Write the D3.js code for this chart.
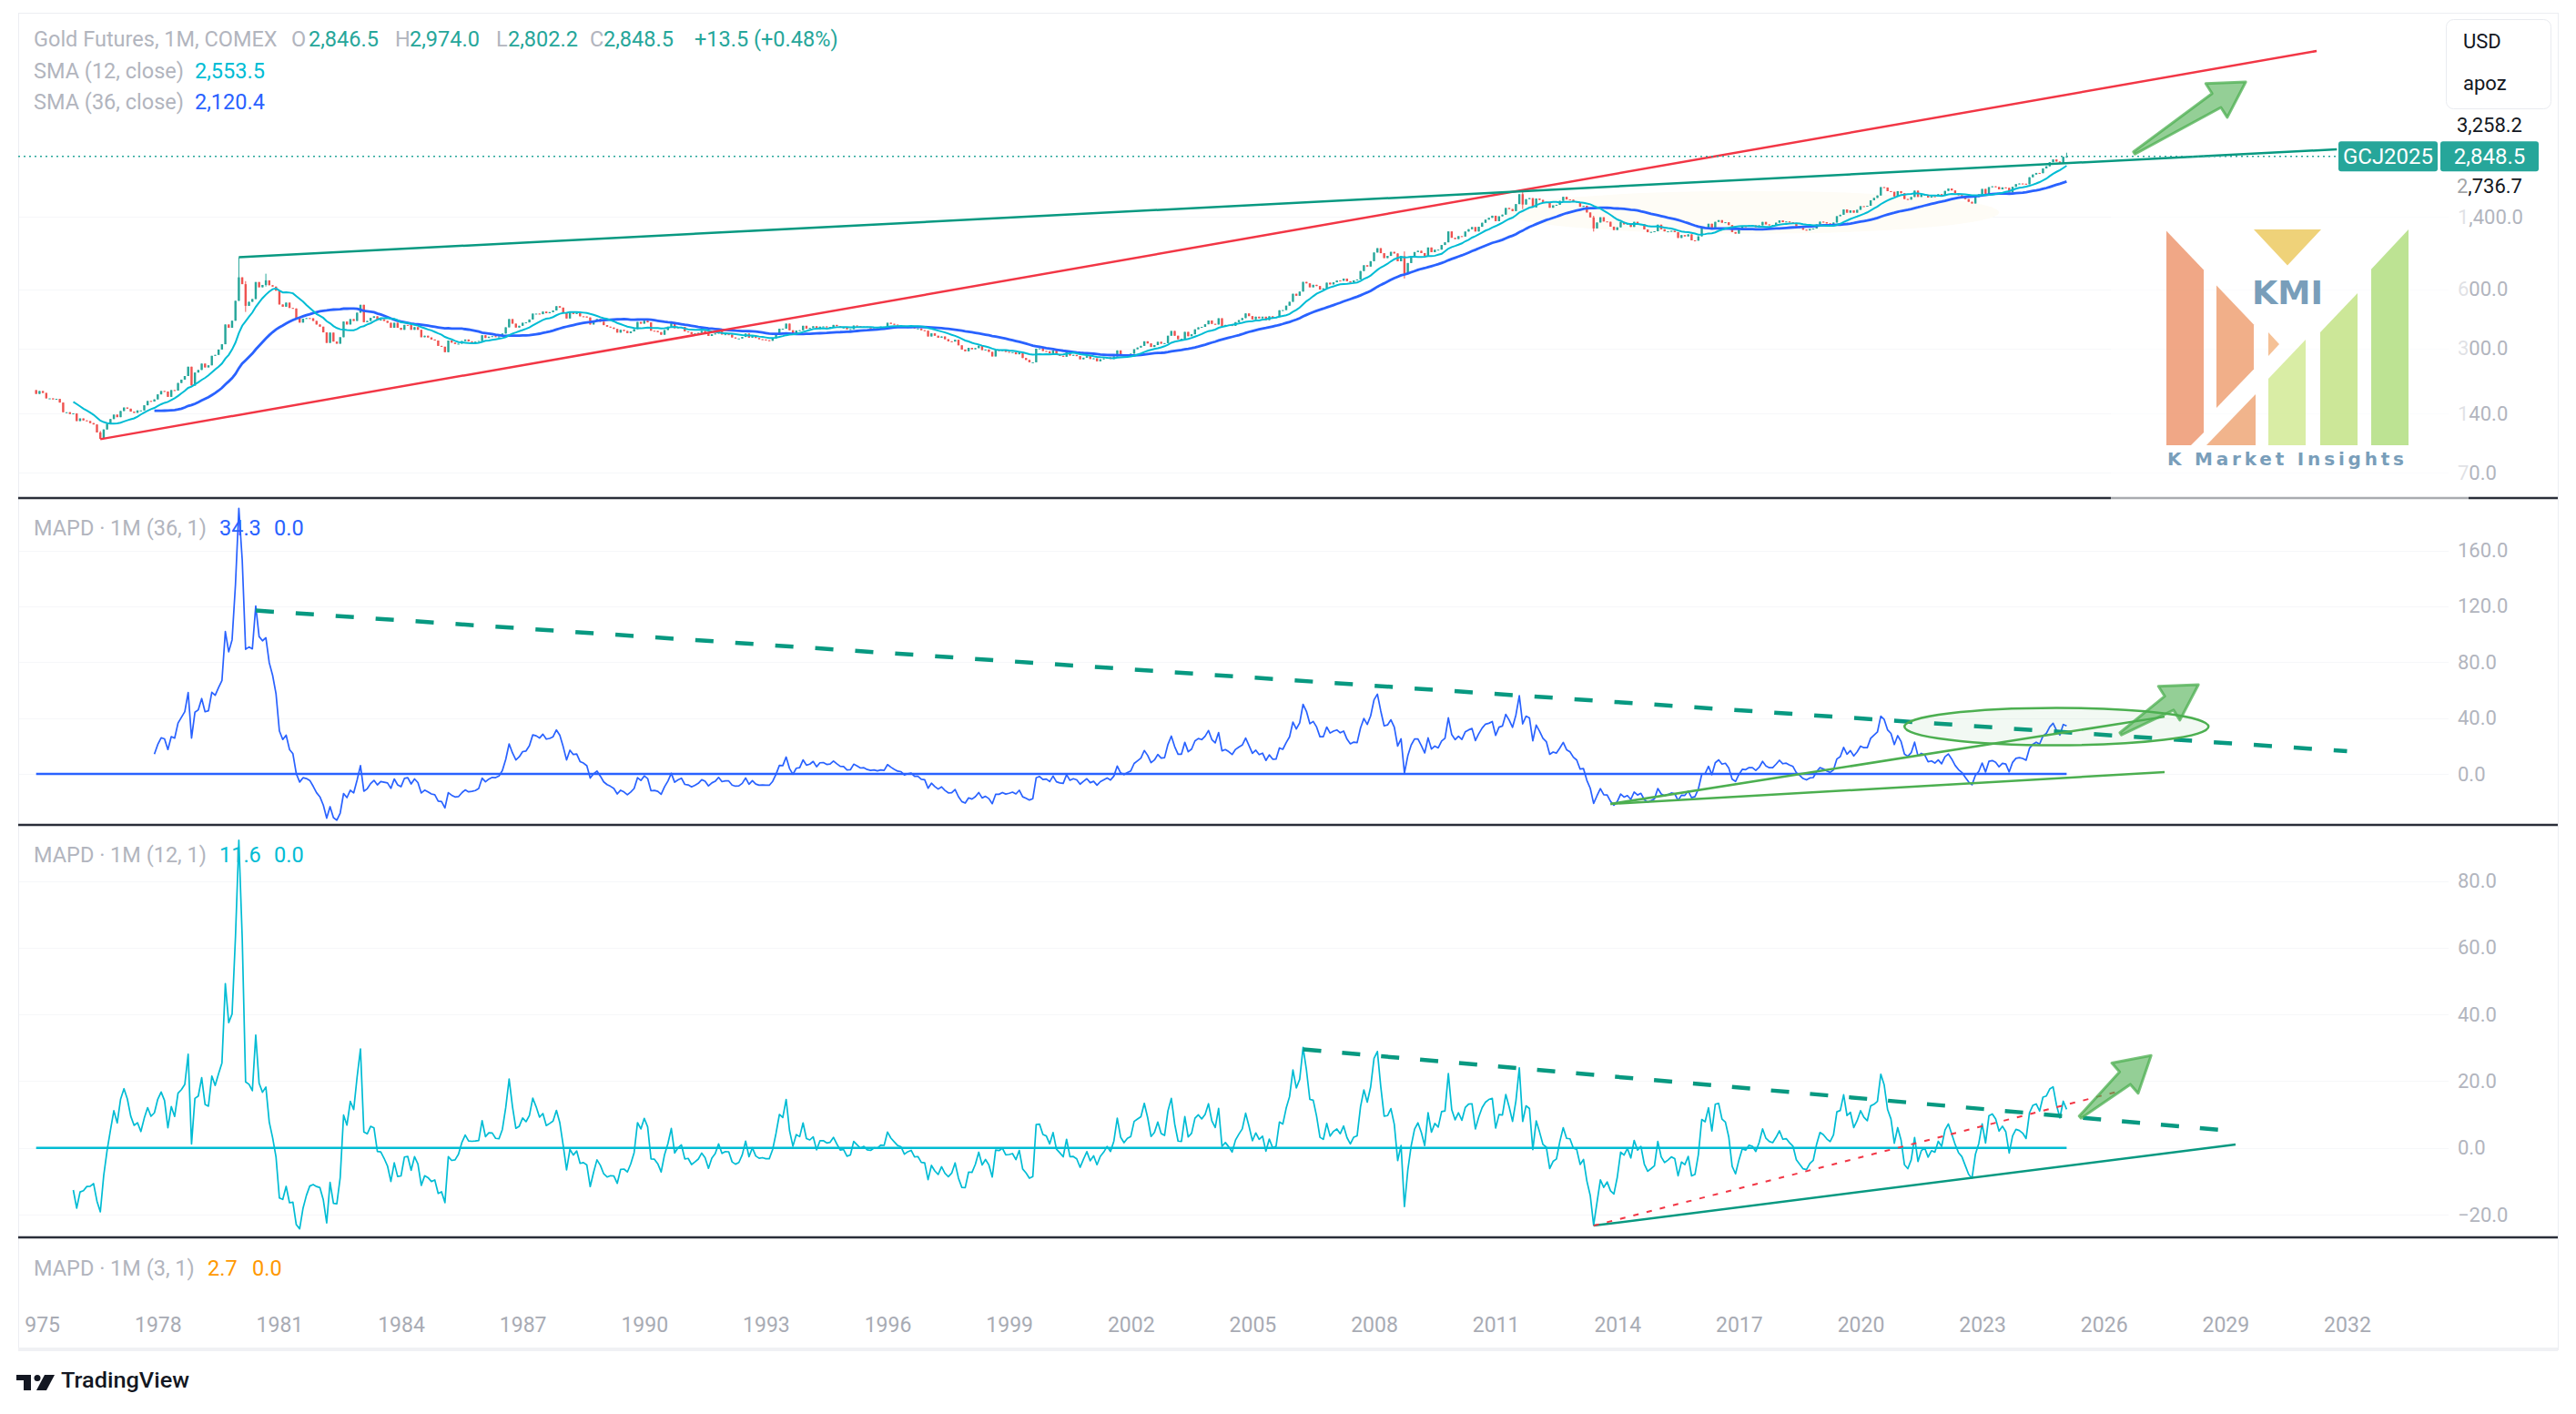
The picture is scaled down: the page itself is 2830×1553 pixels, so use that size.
<!DOCTYPE html>
<html>
<head>
<meta charset="utf-8">
<script src="https://cdn.jsdelivr.net/npm/d3@7"></script>
<style>
  html, body { margin: 0; padding: 0; background: #fff; }
  svg { display: block; }
</style>
</head>
<body>
<div id="chart"></div>
<script>
const W = 2830, H = 1553;
const FONT = 'Roboto, "Liberation Sans", Arial, sans-serif';

// Monthly closes, gold futures continuous (COMEX), one row per year
const close1970s = [
  176, 182, 178, 167, 167, 165, 166, 159, 142, 142, 139, 140,   // 1975
  128, 132, 129, 128, 125, 123, 112, 104, 116, 124, 131, 138,   // 1976
  134, 144, 150, 148, 143, 141, 145, 145, 154, 162, 161, 165,   // 1977
  175, 182, 181, 170, 184, 183, 200, 208, 217, 242, 194, 226,   // 1978
  233, 251, 240, 246, 275, 278, 296, 315, 397, 382, 415, 524    // 1979
];
const close1980s = [
  690, 637, 494, 518, 535, 653, 614, 631, 666, 629, 619, 590,
  502, 489, 513, 482, 479, 426, 406, 425, 428, 427, 414, 397,
  387, 362, 320, 361, 325, 317, 342, 411, 397, 423, 414, 456,
  500, 408, 414, 429, 437, 416, 422, 414, 405, 382, 405, 382,
  373, 395, 394, 373, 385, 373, 342, 348, 341, 333, 329, 309,
  306, 287, 329, 321, 316, 317, 327, 333, 326, 325, 325, 327,
  350, 339, 344, 346, 343, 345, 357, 384, 423, 401, 383, 391,
  405, 407, 421, 451, 451, 448, 462, 453, 459, 468, 492, 484,
  458, 426, 457, 449, 455, 437, 436, 431, 397, 412, 423, 410,
  394, 387, 383, 377, 361, 373, 368, 359, 366, 376, 409, 401
];
const close1990s = [
  415, 407, 369, 368, 363, 352, 372, 387, 408, 380, 384, 386,
  366, 363, 355, 357, 360, 368, 362, 347, 354, 357, 366, 353,
  354, 353, 341, 337, 337, 343, 357, 340, 349, 339, 334, 333,
  330, 328, 337, 355, 378, 378, 401, 371, 355, 370, 371, 391,
  378, 381, 389, 376, 387, 388, 384, 386, 395, 389, 383, 383,
  375, 376, 392, 389, 385, 387, 383, 382, 384, 383, 387, 387,
  405, 400, 396, 392, 391, 382, 385, 387, 379, 379, 371, 369,
  345, 358, 348, 340, 345, 334, 326, 325, 332, 311, 296, 290,
  302, 297, 301, 310, 294, 296, 288, 273, 294, 292, 294, 288,
  287, 287, 280, 286, 268, 262, 255, 255, 299, 300, 291, 290
];
const close2000s = [
  283, 293, 279, 275, 272, 289, 276, 278, 274, 264, 269, 274,
  265, 267, 258, 264, 267, 270, 265, 273, 293, 279, 275, 279,
  282, 297, 303, 309, 326, 318, 305, 312, 324, 317, 319, 348,
  368, 348, 334, 336, 364, 346, 354, 375, 384, 386, 398, 416,
  400, 397, 427, 388, 395, 394, 391, 408, 418, 428, 452, 438,
  422, 435, 427, 435, 418, 437, 429, 433, 469, 470, 495, 518,
  569, 556, 584, 654, 643, 614, 632, 623, 598, 606, 648, 635,
  651, 665, 663, 680, 659, 650, 666, 673, 743, 795, 783, 834,
  923, 971, 916, 865, 887, 930, 913, 833, 884, 718, 816, 884,
  928, 942, 917, 884, 979, 927, 954, 955, 1008, 1040, 1182, 1097
];
const close2010s = [
  1081, 1118, 1113, 1180, 1213, 1244, 1181, 1248, 1308, 1357, 1386, 1421,
  1333, 1411, 1439, 1556, 1536, 1500, 1628, 1829, 1620, 1725, 1746, 1566,
  1738, 1710, 1669, 1664, 1560, 1604, 1615, 1691, 1773, 1719, 1714, 1676,
  1663, 1578, 1597, 1476, 1393, 1224, 1312, 1395, 1328, 1323, 1250, 1202,
  1240, 1321, 1284, 1295, 1246, 1322, 1282, 1287, 1210, 1171, 1175, 1184,
  1279, 1212, 1183, 1183, 1190, 1172, 1095, 1132, 1115, 1142, 1065, 1061,
  1116, 1238, 1235, 1293, 1215, 1322, 1349, 1309, 1316, 1273, 1173, 1152,
  1211, 1255, 1251, 1268, 1268, 1242, 1269, 1321, 1283, 1271, 1275, 1309,
  1345, 1318, 1327, 1315, 1305, 1253, 1232, 1206, 1196, 1215, 1223, 1282,
  1325, 1316, 1298, 1285, 1311, 1413, 1437, 1529, 1472, 1513, 1472, 1523
];
const close2020s = [
  1589, 1585, 1597, 1702, 1751, 1801, 1986, 1978, 1895, 1880, 1780, 1895,
  1850, 1728, 1716, 1770, 1906, 1771, 1817, 1818, 1757, 1784, 1776, 1829,
  1797, 1900, 1954, 1911, 1849, 1807, 1782, 1726, 1672, 1640, 1768, 1826,
  1945, 1836, 1986, 2005, 1990, 1935, 1980, 1970, 1866, 1994, 2057, 2072,
  2067, 2054, 2230, 2303, 2346, 2339, 2474, 2536, 2660, 2749, 2681, 2641,
  2835, 2848.5
];
const firstOpen = 184;
const lastOHLC = [2846.5, 2974.0, 2802.2, 2848.5];

// months whose wicks stand out in the picture
const wickMonths = ['1976-08', '1980-01', '1980-03', '1980-09', '2008-10', '2011-09', '2013-06', '2025-02'];
const wickHigh   = [114, 873, 660, 720, 935, 1920, 1420, 2974.0];
const wickLow    = [103.5, 560, 460, 620, 681, 1535, 1180, 2802.2];

const priceTicks = [70, 140, 300, 600, 1400];
const mapd36Ticks = [0, 40, 80, 120, 160];
const mapd12Ticks = [-20, 0, 20, 40, 60, 80];
const yearTicks = [1975, 1978, 1981, 1984, 1987, 1990, 1993, 1996, 1999, 2002, 2005,
                   2008, 2011, 2014, 2017, 2020, 2023, 2026, 2029, 2032];

// drawings, as [month, value]
const redTrend = [['1976-08', 103.5], ['2031-04', 9800]];
const greenTrend = [['1980-01', 873], ['2031-10', 3095]];
const priceArrow = [['2026-10', 2966], ['2029-07', 6820]];
const m36Dashed = [['1980-06', 117], ['2032-01', 16.3]];
const m36Lower = [['2013-11', -21.5], ['2027-07', 1.3]];
const m36Upper = [['2013-11', -21.5], ['2027-07', 41]];
const m36Ellipse = [['2021-02', 20.5], ['2028-08', 47.3]];
const m36Arrow = [['2026-06', 28.7], ['2028-05', 63.9]];
const m12Dashed = [['2006-04', 29.5], ['2029-03', 5.1]];
const m12Support = [['2013-06', -23.3], ['2029-04', 1.0]];
const m12RedDots = [['2013-06', -23.3], ['2026-06', 17.1]];
const m12Arrow = [['2025-06', 9.2], ['2027-03', 27.7]];

const closes = [].concat(close1970s, close1980s, close1990s, close2000s, close2010s, close2020s);
const monthIdx = s => { const [yy, mm] = s.split('-').map(Number); return (yy - 1975) * 12 + (mm - 1); };

function sma(arr, n) {
  return arr.map((v, i) => i < n - 1 ? null : d3.mean(arr.slice(i - n + 1, i + 1)));
}
function mapd(n) {
  const s = sma(closes, n);
  return closes.map((c, i) => s[i] == null ? null : (c - s[i]) / s[i] * 100);
}
const sma12 = sma(closes, 12), sma36 = sma(closes, 36);
const mapd36 = mapd(36), mapd12 = mapd(12), mapd3 = mapd(3);
const last = closes.length - 1;

const bars = closes.map((c, i) => {
  const o = i === last ? lastOHLC[0] : (i === 0 ? firstOpen : closes[i - 1]);
  return { i, o, c, h: Math.max(o, c), l: Math.min(o, c) };
});
wickMonths.forEach((m, k) => {
  const b = bars[monthIdx(m)];
  b.h = Math.max(b.h, wickHigh[k]);
  b.l = Math.min(b.l, wickLow[k]);
});

// scales
const x = d3.scaleLinear().domain([0, last]).range([39.7, 2270.4]);
const yPrice = d3.scaleLog().domain([70, 600]).range([519, 317.7]);
const y36 = d3.scaleLinear().domain([0, 160]).range([850, 604.6]);
const y12 = d3.scaleLinear().domain([-20, 80]).range([1334, 967.5]);

const UP = '#26a69a', DOWN = '#ef5350';

const svg = d3.select('#chart').append('svg')
  .attr('width', W).attr('height', H)
  .attr('font-family', FONT);
svg.append('rect').attr('width', W).attr('height', H).attr('fill', '#fff');

const defs = svg.append('defs');
function clip(id, x0, y0, x1, y1) {
  defs.append('clipPath').attr('id', id).append('rect')
    .attr('x', x0).attr('y', y0).attr('width', x1 - x0).attr('height', y1 - y0);
  return `url(#${id})`;
}
const clipPrice = clip('cp', 20, 14, 2690, 547);
const clip36 = clip('c36', 20, 547, 2690, 906);
const clip12 = clip('c12', 20, 906, 2690, 1359);
const clipTime = clip('ct', 25, 1400, 2810, 1480);

// frame
svg.append('rect').attr('x', 20.5).attr('y', 14.5).attr('width', 2790).attr('height', 1468)
  .attr('fill', 'none').attr('stroke', '#eceef2').attr('stroke-width', 1);

// faint grid
function hGrid(ticks, scale) {
  svg.append('g').selectAll('line').data(ticks).join('line')
    .attr('x1', 21).attr('x2', 2690)
    .attr('y1', d => Math.round(scale(d)) + 0.5).attr('y2', d => Math.round(scale(d)) + 0.5)
    .attr('stroke', '#f6f7f9').attr('stroke-width', 1);
}
hGrid(priceTicks, yPrice);
hGrid(mapd36Ticks, y36);
hGrid(mapd12Ticks, y12);

const pt = d => [x(monthIdx(d[0])), d[1]];

// ---------- price pane ----------
const gp = svg.append('g').attr('clip-path', clipPrice);

// very faint warm zone behind 2011-2023 candles
gp.append('ellipse')
  .attr('cx', (x(monthIdx('2011-03')) + x(monthIdx('2023-06'))) / 2)
  .attr('cy', (yPrice(1900) + yPrice(1150)) / 2)
  .attr('rx', (x(monthIdx('2023-06')) - x(monthIdx('2011-03'))) / 2)
  .attr('ry', (yPrice(1150) - yPrice(1900)) / 2)
  .attr('fill', '#fefcf6');

gp.append('g').selectAll('line').data(bars).join('line')
  .attr('x1', d => x(d.i)).attr('x2', d => x(d.i))
  .attr('y1', d => yPrice(d.h)).attr('y2', d => yPrice(d.l))
  .attr('stroke', d => d.c >= d.o ? UP : DOWN).attr('stroke-width', 1);
gp.append('g').selectAll('rect').data(bars).join('rect')
  .attr('x', d => x(d.i) - 1.2).attr('width', 2.4)
  .attr('y', d => yPrice(Math.max(d.o, d.c)))
  .attr('height', d => Math.max(1, yPrice(Math.min(d.o, d.c)) - yPrice(Math.max(d.o, d.c))))
  .attr('fill', d => d.c >= d.o ? UP : DOWN);

const priceLine = d3.line().defined(d => d != null).x((d, i) => x(i)).y(d => yPrice(d));
gp.append('path').attr('d', priceLine(sma36)).attr('fill', 'none')
  .attr('stroke', '#2962ff').attr('stroke-width', 2.8);
gp.append('path').attr('d', priceLine(sma12)).attr('fill', 'none')
  .attr('stroke', '#00bcd4').attr('stroke-width', 2);

function segment(g, pts, ys, color, width, dash) {
  const a = pt(pts[0]), b = pt(pts[1]);
  const l = g.append('line').attr('x1', a[0]).attr('y1', ys(a[1]))
    .attr('x2', b[0]).attr('y2', ys(b[1]))
    .attr('stroke', color).attr('stroke-width', width);
  if (dash) l.attr('stroke-dasharray', dash);
  return l;
}
segment(gp, redTrend, yPrice, '#f23645', 2.5);
segment(gp, greenTrend, yPrice, '#089981', 2.5);

// current price dotted line
gp.append('line').attr('x1', 20).attr('x2', 2569)
  .attr('y1', yPrice(lastOHLC[3])).attr('y2', yPrice(lastOHLC[3]))
  .attr('stroke', '#26a69a').attr('stroke-width', 1.6).attr('stroke-dasharray', '2 4');

function arrow(g, pts, ys) {
  const a = pt(pts[0]), b = pt(pts[1]);
  const p0 = [a[0], ys(a[1])], p1 = [b[0], ys(b[1])];
  const dx = p1[0] - p0[0], dy = p1[1] - p0[1], L = Math.hypot(dx, dy);
  const ux = dx / L, uy = dy / L, nx = -uy, ny = ux;
  const P = (s, t) => [p0[0] + ux * s + nx * t, p0[1] + uy * s + ny * t];
  const head = 38, hw = 22, sw = 9, tw = 1.5;
  const poly = [P(0, -tw), P(L - head, -sw), P(L - head, -hw), P(L, 0), P(L - head, hw), P(L - head, sw), P(0, tw)];
  g.append('polygon').attr('points', poly.map(p => p.join(',')).join(' '))
    .attr('fill', 'rgba(76,175,80,0.6)').attr('stroke', 'rgba(76,175,80,0.75)')
    .attr('stroke-width', 3).attr('stroke-linejoin', 'round');
}
arrow(gp, priceArrow, yPrice);

// legend
const fmt1 = d3.format(',.1f');
const legend = svg.append('g').attr('font-size', 23.5);
const l1 = legend.append('text').attr('y', 51).attr('fill', '#b2b5be');
l1.append('tspan').attr('x', 37).text('Gold Futures, 1M, COMEX');
const ohlcLetters = ['O', 'H', 'L', 'C'];
const ohlcLetterX = [320, 434, 545, 648];
const ohlcValueX = [339, 450, 558, 663];
ohlcLetters.forEach((lab, k) => {
  l1.append('tspan').attr('x', ohlcLetterX[k]).attr('fill', '#b2b5be').text(lab);
  l1.append('tspan').attr('x', ohlcValueX[k]).attr('fill', UP).text(fmt1(lastOHLC[k]));
});
const chg = closes[last] - closes[last - 1];
l1.append('tspan').attr('x', 763).attr('fill', UP)
  .text(`+${chg.toFixed(1)} (+${(chg / closes[last - 1] * 100).toFixed(2)}%)`);
const l2 = legend.append('text').attr('y', 86).attr('fill', '#b2b5be');
l2.append('tspan').attr('x', 37).text('SMA (12, close)');
l2.append('tspan').attr('x', 214).attr('fill', '#00bcd4').text(fmt1(sma12[last]));
const l3 = legend.append('text').attr('y', 120).attr('fill', '#b2b5be');
l3.append('tspan').attr('x', 37).text('SMA (36, close)');
l3.append('tspan').attr('x', 214).attr('fill', '#2962ff').text(fmt1(sma36[last]));

// price axis
function rightAxis(scale, ticks, fmt) {
  const g = svg.append('g').attr('transform', 'translate(2697,0)')
    .call(d3.axisRight(scale).tickValues(ticks).tickSize(0).tickPadding(3).tickFormat(fmt));
  g.select('.domain').remove();
  g.attr('font-family', FONT).attr('font-size', 22);
  g.selectAll('text').attr('fill', '#b2b5be');
  return g;
}
rightAxis(yPrice, priceTicks, fmt1);

const yNow = yPrice(lastOHLC[3]);
svg.append('text').attr('x', 2699).attr('y', yNow - 34).attr('dy', '0.35em')
  .attr('font-size', 22).attr('fill', '#131722').text('3,258.2');
svg.append('text').attr('x', 2699).attr('y', yNow + 33).attr('dy', '0.35em')
  .attr('font-size', 22).attr('fill', '#131722').text('2,736.7');
svg.append('rect').attr('x', 2569).attr('y', yNow - 16.5).attr('width', 109).attr('height', 33)
  .attr('rx', 3).attr('fill', '#26a69a');
svg.append('rect').attr('x', 2681).attr('y', yNow - 16.5).attr('width', 108).attr('height', 33)
  .attr('rx', 3).attr('fill', '#26a69a');
svg.append('text').attr('x', 2623.5).attr('y', yNow).attr('dy', '0.36em').attr('text-anchor', 'middle')
  .attr('font-size', 24).attr('fill', '#fff').text('GCJ2025');
svg.append('text').attr('x', 2735).attr('y', yNow).attr('dy', '0.36em').attr('text-anchor', 'middle')
  .attr('font-size', 24).attr('fill', '#fff').text(fmt1(lastOHLC[3]));

// currency / unit box
svg.append('rect').attr('x', 2687.5).attr('y', 21.5).attr('width', 115).attr('height', 98).attr('rx', 8)
  .attr('fill', '#fff').attr('stroke', '#e9ebf0');
svg.append('text').attr('x', 2706).attr('y', 53).attr('font-size', 22).attr('fill', '#131722').text('USD');
svg.append('text').attr('x', 2706).attr('y', 99).attr('font-size', 22).attr('fill', '#131722').text('apoz');

// pane separators
[547, 906, 1359].forEach(yy => {
  svg.append('line').attr('x1', 20).attr('x2', 2810).attr('y1', yy).attr('y2', yy)
    .attr('stroke', '#2a2e39').attr('stroke-width', 2.5);
});

// watermark logo
svg.append('rect').attr('x', 2319).attr('y', 192).attr('width', 393).attr('height', 358)
  .attr('fill', '#fff').attr('opacity', 0.6);
const logo = svg.append('g').attr('opacity', 0.92);
const shapes = [
  ['#efa07c', [[2380, 253.6], [2421, 296.4], [2421, 475], [2407, 489], [2380, 489]]],
  ['#f0a980', [[2435, 313.6], [2476, 356.4], [2476, 405.4], [2435, 448]]],
  ['#f0ae83', [[2424, 489], [2478, 433], [2478, 489]]],
  ['#f5bc8e', [[2492, 365], [2504, 378], [2492, 391]]],
  ['#d6ec9e', [[2492, 416], [2533, 373], [2533, 489], [2492, 489]]],
  ['#c8e690', [[2549, 365], [2590, 322], [2590, 489], [2549, 489]]],
  ['#b8e18a', [[2605, 295.7], [2646, 252], [2646, 489], [2605, 489]]],
  ['#eecf6e', [[2476, 252], [2550, 252], [2513, 291.4]]]
];
logo.selectAll('polygon').data(shapes).join('polygon')
  .attr('points', d => d[1].map(p => p.join(',')).join(' '))
  .attr('fill', d => d[0]);
logo.append('text').attr('x', 2513).attr('y', 334).attr('text-anchor', 'middle')
  .attr('font-family', '"DejaVu Sans", Verdana, sans-serif').attr('font-weight', 'bold')
  .attr('font-size', 35).attr('textLength', 78).attr('lengthAdjust', 'spacingAndGlyphs')
  .attr('fill', '#6e96b5').text('KMI');
logo.append('text').attr('x', 2381).attr('y', 511)
  .attr('font-family', '"DejaVu Sans", Verdana, sans-serif').attr('font-weight', 'bold')
  .attr('font-size', 20).attr('textLength', 260).attr('lengthAdjust', 'spacing')
  .attr('fill', '#6e96b5').text('K Market Insights');

// ---------- MAPD panes ----------
function paneLegend(yy, label, vals, color, valX) {
  const t = svg.append('text').attr('y', yy).attr('font-size', 23.5).attr('fill', '#b2b5be');
  t.append('tspan').attr('x', 37).text(label);
  vals.forEach((v, k) => t.append('tspan').attr('x', valX[k]).attr('fill', color).text(v));
}
paneLegend(588, 'MAPD · 1M (36, 1)', [mapd36[last].toFixed(1), '0.0'], '#2962ff', [241, 301]);
paneLegend(947, 'MAPD · 1M (12, 1)', [mapd12[last].toFixed(1), '0.0'], '#00bcd4', [241, 301]);
paneLegend(1401, 'MAPD · 1M (3, 1)', [mapd3[last].toFixed(1), '0.0'], '#ff9800', [228, 277]);

function mapdPane(clipId, series, ys, color) {
  const g = svg.append('g').attr('clip-path', clipId);
  g.append('line').attr('x1', x(0)).attr('x2', x(last)).attr('y1', ys(0)).attr('y2', ys(0))
    .attr('stroke', color).attr('stroke-width', 2.6);
  const line = d3.line().defined(d => d != null).x((d, i) => x(i)).y(d => ys(d));
  g.append('path').attr('d', line(series)).attr('fill', 'none')
    .attr('stroke', color).attr('stroke-width', 1.7).attr('stroke-linejoin', 'round');
  return g;
}

const g36 = mapdPane(clip36, mapd36, y36, '#2962ff');
segment(g36, m36Dashed, y36, '#089981', 4.5, '20 24');
{
  const a = pt(m36Ellipse[0]), b = pt(m36Ellipse[1]);
  g36.append('ellipse')
    .attr('cx', (a[0] + b[0]) / 2).attr('cy', (y36(a[1]) + y36(b[1])) / 2)
    .attr('rx', (b[0] - a[0]) / 2).attr('ry', (y36(a[1]) - y36(b[1])) / 2)
    .attr('fill', 'rgba(76,175,80,0.07)').attr('stroke', '#4caf50').attr('stroke-width', 2.5);
}
segment(g36, m36Lower, y36, '#4caf50', 2.5);
segment(g36, m36Upper, y36, '#4caf50', 2.5);
arrow(g36, m36Arrow, y36);
rightAxis(y36, mapd36Ticks, d3.format('.1f'));

const g12 = mapdPane(clip12, mapd12, y12, '#00bcd4');
segment(g12, m12Dashed, y12, '#089981', 4.5, '20 23');
segment(g12, m12Support, y12, '#089981', 2.5);
segment(g12, m12RedDots, y12, '#f23645', 2, '6 9');
arrow(g12, m12Arrow, y12);
rightAxis(y12, mapd12Ticks, d3.format('.1f'));

// ---------- time axis ----------
const ta = svg.append('g').attr('clip-path', clipTime).append('g')
  .attr('transform', 'translate(0,1444)')
  .call(d3.axisBottom(x).tickValues(yearTicks.map(yy => (yy - 1975) * 12))
    .tickSize(0).tickPadding(3).tickFormat(d => String(1975 + d / 12)));
ta.select('.domain').remove();
ta.attr('font-family', FONT).attr('font-size', 23);
ta.selectAll('text').attr('fill', '#a8abb4');

// bottom band
svg.append('rect').attr('x', 20).attr('y', 1480).attr('width', 2790).attr('height', 4).attr('fill', '#f0f1f4');

// TradingView mark
const tv = svg.append('g').attr('fill', '#131722');
tv.append('rect').attr('x', 18).attr('y', 1510).attr('width', 16).attr('height', 6);
tv.append('rect').attr('x', 26).attr('y', 1510).attr('width', 8).attr('height', 17);
tv.append('circle').attr('cx', 41).attr('cy', 1513.5).attr('r', 3.5);
tv.append('polygon').attr('points', '49,1510 60,1510 51,1527 40,1527');
svg.append('text').attr('x', 67).attr('y', 1524).attr('font-size', 24).attr('font-weight', 500)
  .attr('textLength', 141).attr('lengthAdjust', 'spacingAndGlyphs').attr('fill', '#131722')
  .text('TradingView');
</script>
</body>
</html>
